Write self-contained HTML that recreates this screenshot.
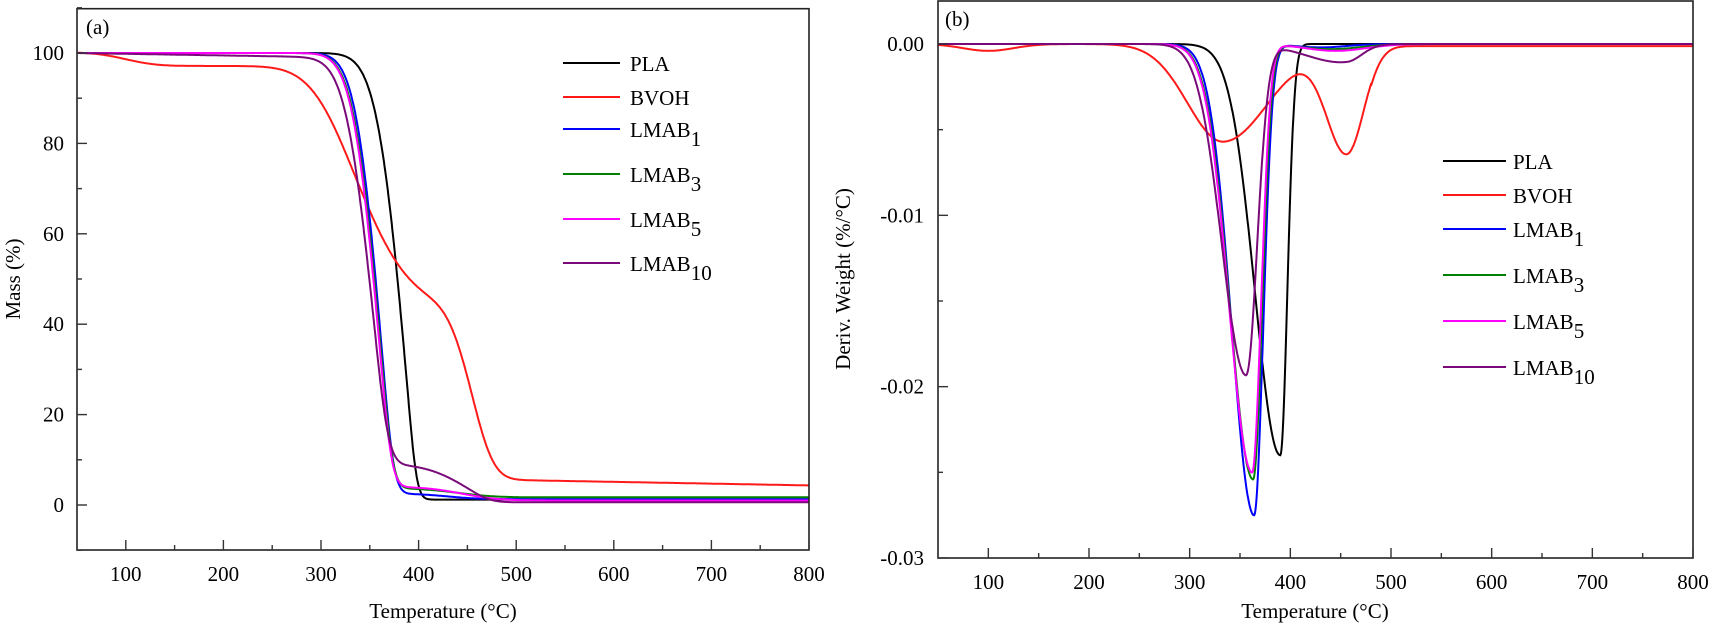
<!DOCTYPE html>
<html><head><meta charset="utf-8">
<style>
html,body{margin:0;padding:0;background:#fff;}
svg{display:block;font-family:"Liberation Serif",serif;}
</style></head>
<body>
<svg id="s" width="1716" height="631" viewBox="0 0 1716 631" xmlns="http://www.w3.org/2000/svg">
<g id="curves"></g>
<g id="axes" stroke="#222" stroke-width="1.6" fill="none">
<rect x="77" y="8.7" width="732" height="541.3"/>
<rect x="938" y="1" width="755" height="557"/>
</g>
<g id="ticks" stroke="#333" stroke-width="1.4"></g>
<g font-size="21" fill="#000">
<text x="86" y="34">(a)</text>
<text x="945" y="26">(b)</text>
<text x="443" y="618" text-anchor="middle">Temperature (°C)</text>
<text x="1315" y="618" text-anchor="middle">Temperature (°C)</text>
<text transform="translate(20,279) rotate(-90)" text-anchor="middle">Mass (%)</text>
<text transform="translate(850,279) rotate(-90)" text-anchor="middle">Deriv. Weight (%/°C)</text>
</g>
<g id="labels" font-size="21" fill="#000"></g>
<g id="legend" font-size="21" fill="#000"></g>
</svg>
<script>
var NS="http://www.w3.org/2000/svg";
function el(p,t,a,txt){var e=document.createElementNS(NS,t);for(var k in a)e.setAttribute(k,a[k]);if(txt!==undefined)e.textContent=txt;p.appendChild(e);return e;}
function ag(T,c,sL,sR){var s=T<c?sL:sR;var d=(T-c)/s;return Math.exp(-0.5*d*d);}
var S=[
 {n:"PLA",col:"#000",comps:[[390,25,7,0.0240,98.8]]},
 {n:"BVOH",col:"#ff1a1a",comps:[[100,25,25,0.0004,3],[333,35,45,0.0057,53],[456,20,17,0.0063,38.5]],tail:1},
 {n:"LMAB1",col:"#0000ff",comps:[[364,22,9,0.0275,97.5],[430,25,25,0.0002,1.2]]},
 {n:"LMAB3",col:"#008000",comps:[[363,23,9,0.0254,96.3],[440,30,30,0.0003,2]]},
 {n:"LMAB5",col:"#ff00ff",comps:[[362,23,9,0.0250,96],[445,30,30,0.0004,3]]},
 {n:"LMAB10",col:"#7a0a7a",comps:[[356,24,11,0.0193,90],[420,30,30,0.0003,2],[456,30,15,0.0009,6.5]],pre:1}
];
var Ts=[];for(var T=50;T<=800;T+=0.5)Ts.push(T);
var cg=document.getElementById("curves");
function ax(T){return 77+(T-50)*732/750;}
function ay(v){return 53+(100-v)*4.52;}
function bx(T){return 938+(T-50)*755/750;}
function by(v){return 44+(-v)*17133;}
S.forEach(function(s){
 var d="";
 Ts.forEach(function(T,i){var v=0;s.comps.forEach(function(c){v-=c[3]*ag(T,c[0],c[1],c[2]);});
  if(s.tail&&T>480)v-=0.00012;
  d+=(i?"L":"M")+bx(T).toFixed(1)+","+by(v).toFixed(1);});
 el(cg,"path",{d:d,stroke:s.col,"stroke-width":2,fill:"none"});
});
S.forEach(function(s){
 var cum=s.comps.map(function(){return 0;}),tot=s.comps.map(function(c){var t=0;for(var T=-200;T<=1000;T+=0.5)t+=ag(T,c[0],c[1],c[2]);return t;});
 var pre=s.comps.map(function(c){var t=0;for(var T=-200;T<50;T+=0.5)t+=ag(T,c[0],c[1],c[2]);return t;});
 var d="";
 Ts.forEach(function(T,i){var v=100;
  s.comps.forEach(function(c,j){cum[j]+=ag(T,c[0],c[1],c[2]);v-=c[4]*cum[j]/tot[j];});
  if(s.n==="BVOH"){v+=(pre[0]/tot[0])*3; if(T>470)v-=1.3*(T-470)/330;}
  if(s.pre)v-=0.9*Math.min(1,(T-50)/250);
  d+=(i?"L":"M")+ax(T).toFixed(1)+","+ay(v).toFixed(1);});
 el(cg,"path",{d:d,stroke:s.col,"stroke-width":2,fill:"none"});
});
var tg=document.getElementById("ticks"),lg=document.getElementById("labels");
for(var T=100;T<=800;T+=50){var M=T%100===0;
 el(tg,"line",{x1:ax(T),x2:ax(T),y1:550,y2:550-(M?10:5)});
 el(tg,"line",{x1:bx(T),x2:bx(T),y1:558,y2:558-(M?10:5)});
 if(M){el(lg,"text",{x:ax(T),y:581,"text-anchor":"middle"},T);el(lg,"text",{x:bx(T),y:589,"text-anchor":"middle"},T);}}
for(var v=-10;v<=110;v+=10){var M=v%20===0;var y=ay(v);
 el(tg,"line",{x1:77,x2:77+(M?10:5),y1:y,y2:y});
 if(M&&v>=0&&v<=100)el(lg,"text",{x:64,y:y+7,"text-anchor":"end"},v);}
for(var k=0;k<=6;k++){var v=-0.005*k;var y=by(v);var M=k%2===0;
 el(tg,"line",{x1:938,x2:938+(M?10:5),y1:y,y2:y});
 if(M)el(lg,"text",{x:924,y:y+7,"text-anchor":"end"},k===0?"0.00":"-"+(0.005*k).toFixed(2));}
var leg=document.getElementById("legend");
function legend(x1,x2,tx,ys){S.forEach(function(s,i){
 el(leg,"line",{x1:x1,x2:x2,y1:ys[i],y2:ys[i],stroke:s.col,"stroke-width":2});
 var t=el(leg,"text",{x:tx,y:ys[i]+8});
 var m=s.n.match(/^(LMAB)(\d+)$/);
 if(m){t.appendChild(document.createTextNode("LMAB"));el(t,"tspan",{dy:9},m[2]);}else t.textContent=s.n;});}
legend(563,620,630,[63,97,129,174,219,263]);
legend(1443,1506,1513,[161,195,229,275,321,367]);
</script>
</body></html>
